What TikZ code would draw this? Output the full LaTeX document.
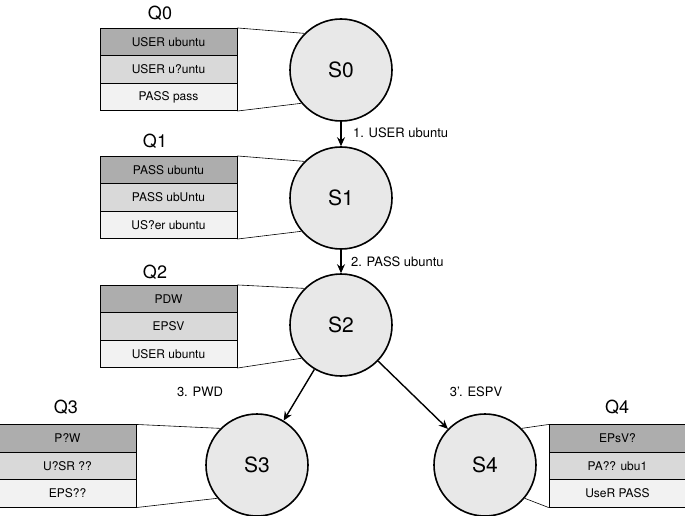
\documentclass[tikz,border=0pt]{standalone}
\usepackage{fontspec}
\setmainfont{TeX Gyre Heros}
\usetikzlibrary{arrows.meta}
\begin{document}
\begin{tikzpicture}[x=1pt,y=-1pt,
  state/.style={circle,draw,line width=1.6pt,fill=black!9,minimum size=102pt,inner sep=0pt,font=\fontsize{21}{24}\selectfont},
  qbox/.style={draw,line width=0.6pt,minimum width=137pt,minimum height=27.5pt,inner sep=0pt,font=\fontsize{12}{14}\selectfont},
  qa/.style={qbox,fill=black!32},
  qb/.style={qbox,fill=black!15},
  qc/.style={qbox,fill=black!5},
  qlab/.style={font=\fontsize{18}{20}\selectfont},
  elab/.style={font=\fontsize{13}{15}\selectfont},
  link/.style={line width=0.6pt},
  arr/.style={line width=1.4pt,-{Stealth[length=9pt,width=8pt]}}]
\useasboundingbox (0,0) rectangle (685,516);
\node[state] (S0) at (341,70) {S0};
\node[state] (S1) at (341,198) {S1};
\node[state] (S2) at (341,325) {S2};
\node[state] (S3) at (257,465) {S3};
\node[state] (S4) at (485,465) {S4};
% Q0
\node[qa] (a0) at (168.5,42) {USER ubuntu};
\node[qb] (b0) at (168.5,69.5) {USER u?untu};
\node[qc] (c0) at (168.5,97) {PASS pass};
\node[qlab] (q0) at (160,13) {Q0};
\draw[link] (a0.north east) -- (S0.135);
\draw[link] (c0.south east) -- (S0.220);
% Q1
\node[qa] (a1) at (168.5,170) {PASS ubuntu};
\node[qb] (b1) at (168.5,197.5) {PASS ubUntu};
\node[qc] (c1) at (168.5,225) {US?er ubuntu};
\node[qlab] (q1) at (155,141) {Q1};
\draw[link] (a1.north east) -- (S1.135);
\draw[link] (c1.south east) -- (S1.220);
% Q2
\node[qa] (a2) at (168.5,299) {PDW};
\node[qb] (b2) at (168.5,326.5) {EPSV};
\node[qc] (c2) at (168.5,354) {USER ubuntu};
\node[qlab] (q2) at (155,272) {Q2};
\draw[link] (a2.north east) -- (S2.135);
\draw[link] (c2.south east) -- (S2.220);
% Q3
\node[qa] (a3) at (67.5,438.5) {P?W};
\node[qb] (b3) at (67.5,466) {U?SR ??};
\node[qc] (c3) at (67.5,493.5) {EPS??};
\node[qlab] (q3) at (66,407) {Q3};
\draw[link] (a3.north east) -- (S3.135);
\draw[link] (c3.south east) -- (S3.220);
% Q4
\node[qa] (a4) at (617.5,438.5) {EPsV?};
\node[qb] (b4) at (617.5,466) {PA?? ubu1};
\node[qc] (c4) at (617.5,493.5) {UseR PASS};
\node[qlab] (q4) at (617,407) {Q4};
\draw[link] (a4.north west) -- (S4.45);
\draw[link] (c4.south west) -- (S4.-40);
% transitions
\draw[arr] (S0) -- (S1) node[elab,pos=0.45,right=8pt] {1. USER ubuntu};
\draw[arr] (S1) -- (S2) node[elab,pos=0.5,right=6pt] {2. PASS ubuntu};
\draw[arr] (S2) -- (S3);
\draw[arr] (S2) -- (S4);
\node[elab] (l3) at (200,392) {3. PWD};
\node[elab] (l4) at (476,392) {3'. ESPV};
\end{tikzpicture}
\end{document}
